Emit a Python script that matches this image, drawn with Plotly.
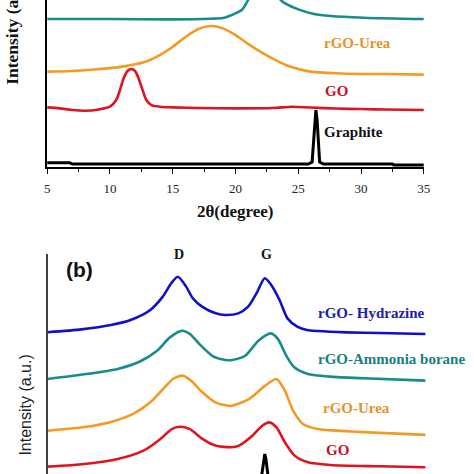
import plotly.graph_objects as go

# ---------------- (a) XRD data ----------------
xrd_graphite_x = [5, 6.8, 7, 20, 25.8, 26.1, 26.3, 26.4, 26.5, 26.7, 27, 32.5, 32.6, 35]
xrd_graphite_y = [0.26, 0.26, 0.18, 0.18, 0.18, 0.30, 2.8, 3.41, 2.8, 0.30, 0.18, 0.18, 0.12, 0.12]

xrd_go_x = [5, 6, 7, 8, 9, 10, 10.5, 10.8, 11.1, 11.4, 11.7, 12.0, 12.3, 12.6, 12.9, 13.3, 14,
            15, 17, 20, 23, 24.5, 26, 28, 30, 32, 35]
xrd_go_y = [3.57, 3.51, 3.41, 3.37, 3.43, 3.61, 4.01, 4.61, 5.33, 5.75, 5.87, 5.75, 5.27, 4.61, 4.01, 3.71, 3.61,
            3.57, 3.53, 3.51, 3.53, 3.61, 3.56, 3.50, 3.47, 3.44, 3.41]

xrd_urea_x = [5, 7, 9, 11, 12, 13, 14, 15, 16, 17, 18, 19, 20, 21, 22, 23, 24, 25, 26, 28, 30, 32, 35]
xrd_urea_y = [5.71, 5.75, 5.85, 6.01, 6.15, 6.35, 6.71, 7.20, 7.77, 8.25, 8.44, 8.30, 7.90, 7.37, 6.89,
              6.47, 6.11, 5.87, 5.71, 5.61, 5.57, 5.57, 5.53]

xrd_ab_x = [5, 10, 15, 18, 19, 19.5, 20, 20.5, 21, 21.5, 22, 22.3, 22.7, 23.2, 23.6, 24.2, 25, 26.25,
            27.6, 30.2, 35]
xrd_ab_y = [8.86, 8.86, 8.84, 8.88, 8.92, 9.04, 9.20, 9.40, 10.0, 11.0, 12.3, 12.6, 12.2, 11.0, 10.0,
            9.70, 9.44, 9.16, 9.04, 8.94, 8.86]

xrd_ticks = [5, 10, 15, 20, 25, 30, 35]

# ---------------- (b) Raman data ----------------
ram_hyd_x = [1000, 1089, 1167, 1219, 1271, 1304, 1327, 1344, 1366, 1383, 1408, 1444, 1470, 1504, 1530,
             1552, 1574, 1591, 1613, 1634, 1660, 1686, 1714, 1791, 1878, 1999]
ram_hyd_y = [8.49, 8.66, 8.92, 9.22, 9.82, 10.62, 11.44, 11.81, 11.22, 10.54, 10.02, 9.62, 9.52, 9.62,
             10.02, 10.82, 11.72, 11.32, 10.42, 9.32, 8.82, 8.62, 8.56, 8.48, 8.44, 8.38]

ram_ab_x = [1000, 1097, 1185, 1245, 1289, 1323, 1355, 1376, 1401, 1435, 1470, 1488, 1522, 1557, 1590,
            1609, 1631, 1652, 1688, 1748, 1835, 1999]
ram_ab_y = [5.69, 5.97, 6.29, 6.75, 7.38, 8.18, 8.58, 8.38, 7.78, 7.08, 6.83, 6.83, 7.08, 7.98, 8.42,
            8.08, 7.08, 6.39, 5.99, 5.83, 5.73, 5.59]

ram_urea_x = [1000, 1097, 1167, 1227, 1271, 1305, 1331, 1356, 1379, 1409, 1443, 1478, 1488, 1532, 1575,
              1605, 1627, 1649, 1675, 1714, 1792, 1878, 1999]
ram_urea_y = [2.59, 2.81, 3.12, 3.62, 4.29, 5.09, 5.69, 5.89, 5.59, 4.89, 4.29, 4.09, 4.09, 4.49, 5.29,
              5.69, 4.99, 3.79, 2.99, 2.69, 2.56, 2.46, 2.34]

ram_go_x = [1000, 1097, 1185, 1253, 1298, 1328, 1348, 1376, 1409, 1443, 1485, 1506, 1541, 1567, 1586,
            1605, 1627, 1653, 1688, 1748, 1878, 1999]
ram_go_y = [0.44, 0.60, 0.90, 1.40, 2.10, 2.69, 2.83, 2.69, 2.10, 1.70, 1.60, 1.70, 2.29, 2.89, 3.09,
            2.79, 1.90, 1.10, 0.70, 0.54, 0.46, 0.40]

ram_gr_x = [1000, 1540, 1560, 1566, 1571, 1574, 1577, 1582, 1590, 1610, 1999]
ram_gr_y = [-3, -3, -1, 0.0, 0.9, 1.2, 0.9, 0.0, -1.5, -3, -3]

# colours
C_BLACK = "#000000"
C_RED = "#e0141e"
C_ORANGE = "#f39a22"
C_TEAL = "#178c88"
C_BLUE = "#1010cc"

SERIF = "Liberation Serif, Times New Roman, serif"
SANS = "Liberation Sans, Arial, sans-serif"

fig = go.Figure()

def add(x, y, color, xa, ya, width=2.6, shape="spline", smoothing=0.8):
    fig.add_trace(go.Scatter(x=x, y=y, mode="lines", xaxis=xa, yaxis=ya,
                             line=dict(color=color, width=width, shape=shape, smoothing=smoothing),
                             showlegend=False, hoverinfo="skip"))

add(xrd_graphite_x, xrd_graphite_y, C_BLACK, "x", "y", width=3, shape="linear")
add(xrd_go_x, xrd_go_y, C_RED, "x", "y")
add(xrd_urea_x, xrd_urea_y, C_ORANGE, "x", "y")
add(xrd_ab_x, xrd_ab_y, C_TEAL, "x", "y")

add(ram_gr_x, ram_gr_y, C_BLACK, "x2", "y2", width=3, shape="linear")
add(ram_go_x, ram_go_y, C_RED, "x2", "y2", smoothing=0.7)
add(ram_urea_x, ram_urea_y, C_ORANGE, "x2", "y2", smoothing=0.7)
add(ram_ab_x, ram_ab_y, C_TEAL, "x2", "y2", smoothing=0.7)
add(ram_hyd_x, ram_hyd_y, C_BLUE, "x2", "y2", smoothing=0.7)

W = H = 474

fig.update_layout(
    width=W, height=H, margin=dict(l=0, r=0, t=0, b=0),
    paper_bgcolor="white", plot_bgcolor="white",
    xaxis=dict(domain=[45 / W, 429 / W], range=[5, 35], anchor="y",
               showline=True, linecolor="black", linewidth=1.5, showgrid=False, zeroline=False,
               tickmode="array", tickvals=xrd_ticks, ticks="outside", ticklen=5, tickwidth=1.2,
               tickcolor="black", tickfont=dict(family=SERIF, size=13, color="#222"),
               minor=dict(dtick=2.5, tick0=5, ticks="outside", ticklen=3, tickwidth=1.2, tickcolor="black"),
               ticklabelstandoff=4),
    yaxis=dict(domain=[1 - 167 / H, 1], range=[0, 10], anchor="x",
               showline=True, linecolor="black", linewidth=1.5, showgrid=False, zeroline=False,
               showticklabels=False, ticks=""),
    xaxis2=dict(domain=[45.7 / W, 431 / W], range=[1000, 2000], anchor="y2", visible=False),
    yaxis2=dict(domain=[0, 220 / H], range=[0, 220 / 16.7], anchor="x2",
                showline=True, linecolor="#444", linewidth=1.5, showgrid=False, zeroline=False,
                showticklabels=False, ticks=""),
)

def ann(text, x, y, xref, yref, size, color, family=SERIF, bold=True, angle=0):
    fig.add_annotation(text=text, x=x, y=y, xref=xref, yref=yref, showarrow=False,
                       xanchor="center", yanchor="middle", textangle=angle,
                       font=dict(family=family, size=size, color=color,
                                 weight="bold" if bold else "normal"))

# (a) labels
ann("rGO-Urea", 29.7, 7.43, "x", "y", 15, "#e8922a")
ann("GO", 28.05, 4.55, "x", "y", 15, "#cc1020")
ann("Graphite", 29.4, 2.1, "x", "y", 15, "#111")
ann("2θ(degree)", 237.5 / W, 1 - 211 / H, "paper", "paper", 17, "#111")
ann("Intensity (a.u.)", 9 / W, 1 - 30 / H, "paper", "paper", 17.5, "#111", angle=-90)

# (b) labels
ann("(b)", 77.5 / W, 1 - 269 / H, "paper", "paper", 21, "#111", family=SANS)
ann("D", 179.5 / W, 1 - 254.5 / H, "paper", "paper", 14, "#111")
ann("G", 269 / W, 1 - 254.5 / H, "paper", "paper", 14, "#111")
ann("rGO- Hydrazine", 1855, 9.64, "x2", "y2", 15, "#2020b0")
ann("rGO-Ammonia borane", 1910, 6.89, "x2", "y2", 15, "#16807c")
ann("rGO-Urea", 1816, 3.95, "x2", "y2", 15, "#e8922a")
ann("GO", 1766, 1.44, "x2", "y2", 15, "#cc1020")
ann("Intensity (a.u.)", 22 / W, 1 - 405 / H, "paper", "paper", 16, "#222", family=SANS, bold=False, angle=-90)

fig.write_html("out.html")
